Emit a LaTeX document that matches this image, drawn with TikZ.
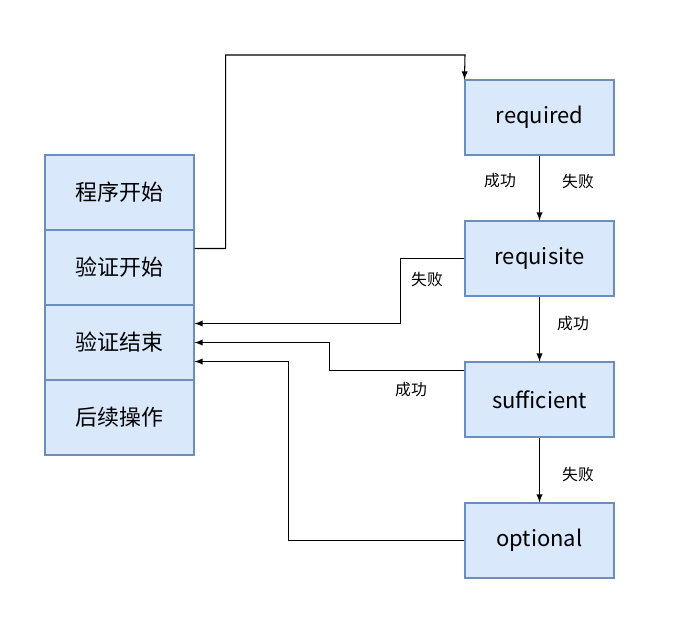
\documentclass[tikz,border=0pt]{standalone}
\usepackage{fontspec}
\setmainfont{Noto Sans CJK SC}
\usetikzlibrary{calc}
\definecolor{boxfill}{HTML}{DAE8FC}
\definecolor{boxline}{HTML}{6C8EBF}
\begin{document}
\begin{tikzpicture}[
        >=latex, x=0.02cm, y=-0.02cm, semithick,
        box/.style={draw=boxline, fill=boxfill, minimum width=149*0.02cm,
            minimum height=75*0.02cm, font=\fontsize{12.5}{14}\selectfont, inner sep=0pt},
        lbl/.style={font=\fontsize{9}{11}\selectfont},
    ]
    \useasboundingbox (0,0) rectangle (692,627);

    % left column
    \node[box] (start)  at (119.5,192.5) {程序开始};
    \node[box] (vbegin) at (119.5,267.5) {验证开始};
    \node[box] (vend)   at (119.5,342.5) {验证结束};
    \node[box] (after)  at (119.5,417.5) {后续操作};

    % right column
    \node[box] (required)   at (539.5,117.5) {required};
    \node[box] (requisite)  at (539.5,258.5) {requisite};
    \node[box] (sufficient) at (539.5,399.5) {sufficient};
    \node[box] (optional)   at (539.5,540.5) {optional};

    \coordinate (endUp)  at ($(vend.east)+(0,-19)$);
    \coordinate (endMid) at (vend.east);
    \coordinate (endLow) at ($(vend.east)+(0,19)$);

    \draw[->] ($(vbegin.east)+(0,-19)$) -- ++(31,0) |- (465,55) -- (required.north west);
    \draw[->] (required) -- (requisite);
    \draw[->] (requisite) -- (sufficient);
    \draw[->] (sufficient) -- (optional);
    \draw[->] (requisite.west) -- ++(-64,0) |- (endUp);
    \draw[->] ($(sufficient.west)+(0,-29)$) -- ++(-135,0) |- (endMid);
    \draw[->] (optional.west) -- ++(-176,0) |- (endLow);

    \node[lbl] at (500,181) {成功};
    \node[lbl] at (578,181) {失败};
    \node[lbl] at (427,279) {失败};
    \node[lbl] at (573,324) {成功};
    \node[lbl] at (411,390) {成功};
    \node[lbl] at (578,474) {失败};
\end{tikzpicture}
\end{document}
